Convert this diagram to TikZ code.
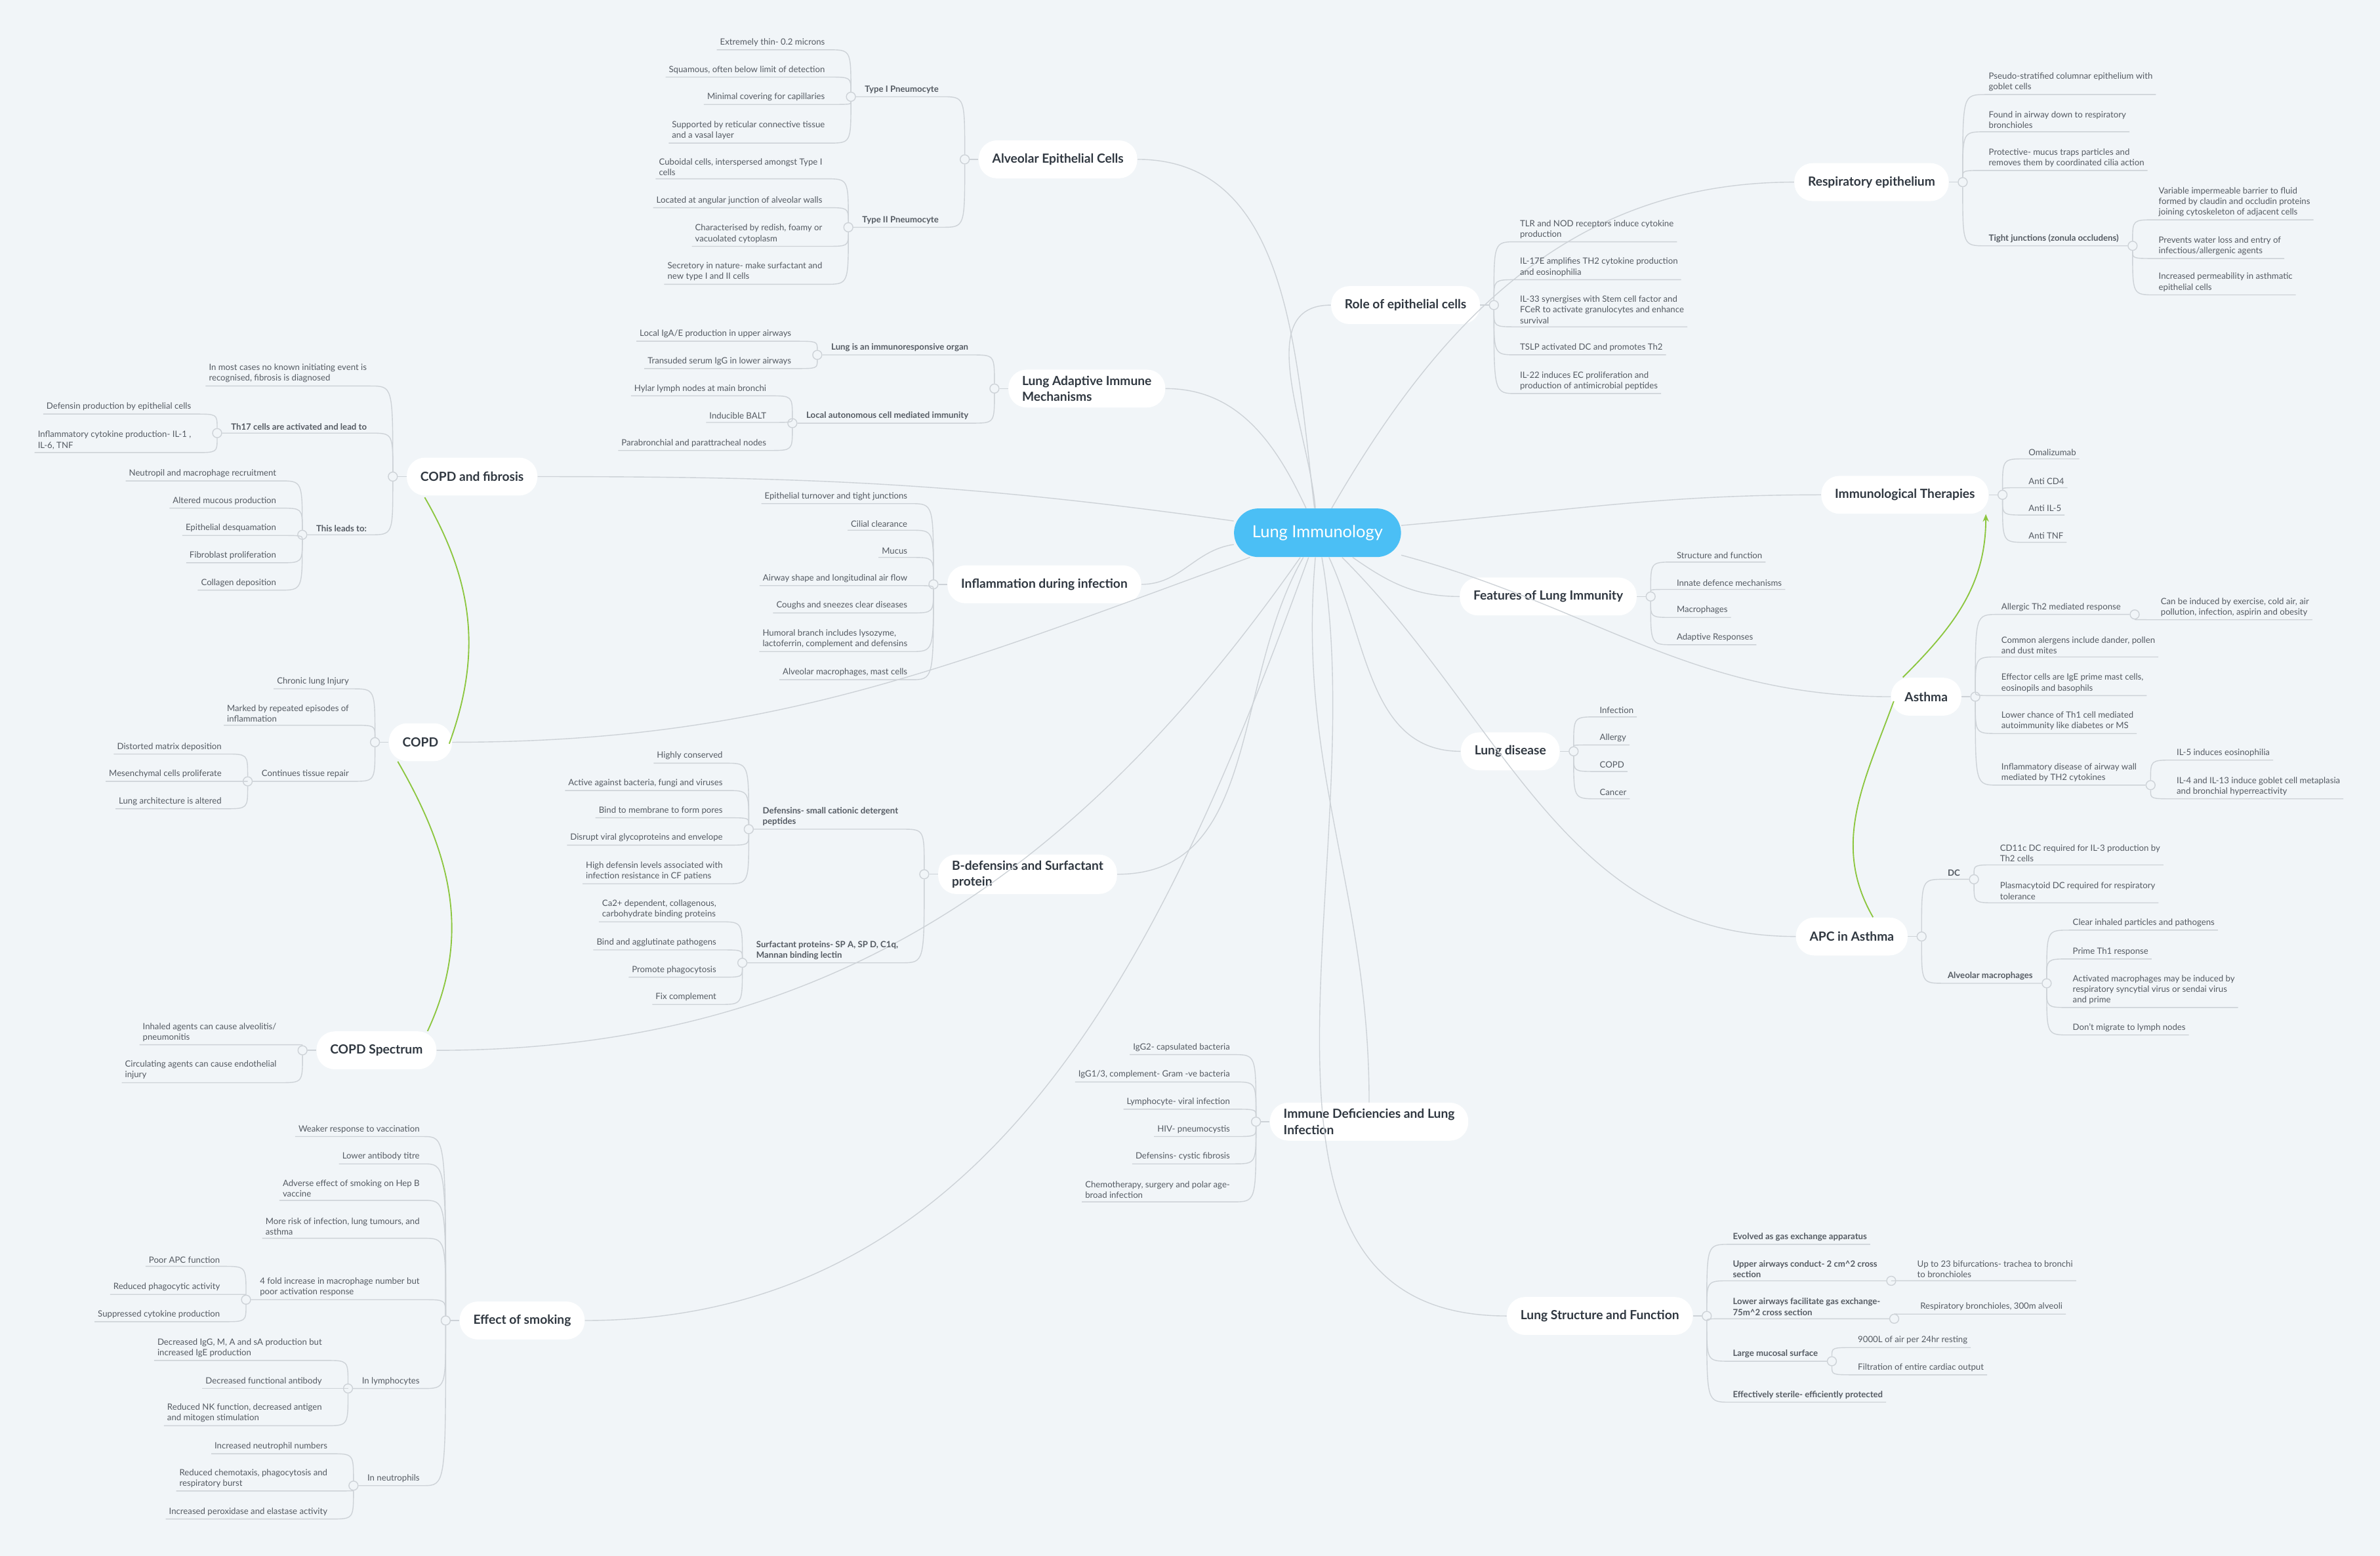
\documentclass[tikz,border=0pt]{standalone}
\usepackage{fontspec}
\setmainfont{Lato}
\usetikzlibrary{calc,arrows.meta}
\definecolor{bgC}{HTML}{F1F5F8}
\definecolor{lineC}{HTML}{CDD2D7}
\definecolor{leafC}{HTML}{555B63}
\definecolor{headC}{HTML}{2F3740}
\definecolor{greenC}{HTML}{8CC63F}
\definecolor{centC}{HTML}{4BBFF5}
\newcommand\lfont{\fontsize{5.7}{7}\selectfont}
\tikzset{
 conn/.style={draw=lineC, line width=0.6pt},
 gconn/.style={draw=greenC, line width=0.8pt},
 leafL/.style={anchor=east, font=\lfont, text=leafC, align=left, inner xsep=2pt, inner ysep=2pt},
 leafR/.style={anchor=west, font=\lfont, text=leafC, align=left, inner xsep=2pt, inner ysep=2pt},
 dotc/.style={circle, draw=lineC, fill=bgC, line width=0.6pt, minimum size=6pt, inner sep=0pt},
 mainbox/.style={fill=white, rounded corners=12pt, font=\fontsize{8.3}{10.5}\selectfont\bfseries, text=headC, align=left, inner xsep=9pt, inner ysep=4pt, minimum height=25pt},
 central/.style={fill=centC, rounded corners=16pt, font=\fontsize{11}{13}\selectfont, text=white, minimum width=110pt, minimum height=32pt}
}
\newcommand\mainL[1]{\node[dotc] (#1c) at ($(#1.west)+(-9,0)$) {}; \draw[conn] (#1c) -- (#1);}
\newcommand\mainR[1]{\node[dotc] (#1c) at ($(#1.east)+(9,0)$) {}; \draw[conn] (#1c) -- (#1);}
\newcommand\LL[4]{\node[leafL, xshift=-15pt] (#1) at (#2 |- 0,#3) {#4};
 \draw[conn] (#1.south west) -- (#1.south east) .. controls (#2 |- #1.south east) .. (#2);}
\newcommand\LS[4]{\node[leafL, xshift=-15pt] (#1) at (#2 |- 0,#3) {#4};
 \node[dotc] (#1c) at ($(#1.south west)+(-7,0)$) {};
 \draw[conn] (#1c) -- (#1.south east) .. controls (#2 |- #1.south east) .. (#2);}
\newcommand\RL[4]{\node[leafR, xshift=15pt] (#1) at (#2 |- 0,#3) {#4};
 \draw[conn] (#1.south east) -- (#1.south west) .. controls (#2 |- #1.south west) .. (#2);}
\newcommand\RS[4]{\node[leafR, xshift=15pt] (#1) at (#2 |- 0,#3) {#4};
 \node[dotc] (#1c) at ($(#1.south east)+(7,0)$) {};
 \draw[conn] (#1c) -- (#1.south west) .. controls (#2 |- #1.south west) .. (#2);}
\begin{document}
\begin{tikzpicture}[x=1pt,y=-1pt]
\path[fill=bgC] (0,0) rectangle (1568,1025);
\node[central] (C) at (868,351) {Lung Immunology};
% main nodes
\node[mainbox] (AEC) at (697,105) {Alveolar Epithelial Cells};
\node[mainbox] (LAI) at (716,256) {Lung Adaptive Immune\\Mechanisms};
\node[mainbox] (CF) at (311,314) {COPD and fibrosis};
\node[mainbox] (INF) at (688,385) {Inflammation during infection};
\node[mainbox] (CO) at (277,489) {COPD};
\node[mainbox] (BD) at (677,576) {B-defensins and Surfactant\\protein};
\node[mainbox] (CS) at (248,692) {COPD Spectrum};
\node[mainbox] (ES) at (344,870) {Effect of smoking};
\node[mainbox] (ID) at (902,739) {Immune Deficiencies and Lung\\Infection};
\node[mainbox] (RO) at (926,201) {Role of epithelial cells};
\node[mainbox] (RE) at (1233,120) {Respiratory epithelium};
\node[mainbox] (IT) at (1255,326) {Immunological Therapies};
\node[mainbox] (FE) at (1020,393) {Features of Lung Immunity};
\node[mainbox] (LD) at (995,495) {Lung disease};
\node[mainbox] (AS) at (1269,459) {Asthma};
\node[mainbox] (AP) at (1220,617) {APC in Asthma};
\node[mainbox] (LS) at (1054,867) {Lung Structure and Function};
% central connectors
\draw[conn] (C) to[out=97,in=0] (AEC.east);
\draw[conn] (C) to[out=115,in=0] (LAI.east);
\draw[conn] (C) to[out=172,in=0] (CF.east);
\draw[conn] (C) to[out=188,in=0] (INF.east);
\draw[conn] (C) to[out=200,in=0] (CO.east);
\draw[conn] (C) to[out=240,in=0] (BD.east);
\draw[conn] (C) to[out=235,in=0] (CS.east);
\draw[conn] (C) to[out=250,in=0] (ES.east);
\draw[conn] (C) to[out=-95,in=90] (ID.north);
\draw[conn] (C) to[out=-80,in=180] (LS.west);
\draw[conn] (C) to[out=95,in=180] (RO.west);
\draw[conn] (C) to[out=60,in=180] (RE.west);
\draw[conn] (C) to[out=5,in=180] (IT.west);
\draw[conn] (C) to[out=-35,in=180] (FE.west);
\draw[conn] (C) to[out=-65,in=180] (LD.west);
\draw[conn] (C) to[out=-15,in=180] (AS.west);
\draw[conn] (C) to[out=-45,in=180] (AP.west);
% green relations
\draw[gconn] ($(CF.south west)+(12,1)$) to[out=-60,in=70] ($(CO.east)+(-2,1)$);
\draw[gconn] ($(CO.south west)+(6,0)$) to[out=-60,in=65] ($(CS.north east)+(-6,0)$);
\draw[gconn,-{Stealth[length=5pt,width=4pt]}] ($(AS.north west)+(8,0)$) to[out=45,in=-90] ($(IT.south east)+(-2,0)$);
\draw[gconn] ($(AP.north)+(14,0)$) to[out=120,in=-110] ($(AS.west)+(2,3)$);
% Alveolar
\mainL{AEC}
\LS{T1}{AECc}{59}{\bfseries Type I Pneumocyte}
\LL{a1}{T1c}{28}{Extremely thin- 0.2 microns}
\LL{a2}{T1c}{46}{Squamous, often below limit of detection}
\LL{a3}{T1c}{64}{Minimal covering for capillaries}
\LL{a4}{T1c}{86}{Supported by reticular connective tissue\\and a vasal layer}
\LS{T2}{AECc}{145}{\bfseries Type II Pneumocyte}
\LL{a5}{T2c}{110}{Cuboidal cells, interspersed amongst Type I\\cells}
\LL{a6}{T2c}{132}{Located at angular junction of alveolar walls}
\LL{a7}{T2c}{154}{Characterised by redish, foamy or\\vacuolated cytoplasm}
\LL{a8}{T2c}{179}{Secretory in nature- make surfactant and\\new type I and II cells}
% Lung adaptive
\mainL{LAI}
\LS{LA1}{LAIc}{229}{\bfseries Lung is an immunoresponsive organ}
\LL{b1}{LA1c}{220}{Local IgA/E production in upper airways}
\LL{b2}{LA1c}{238}{Transuded serum IgG in lower airways}
\LS{LA2}{LAIc}{274}{\bfseries Local autonomous cell mediated immunity}
\LL{b3}{LA2c}{256}{Hylar lymph nodes at main bronchi}
\LL{b4}{LA2c}{274}{Inducible BALT}
\LL{b5}{LA2c}{292}{Parabronchial and parattracheal nodes}
% COPD and fibrosis
\mainL{CF}
\LL{c0}{CFc}{246}{In most cases no known initiating event is\\recognised, fibrosis is diagnosed}
\LS{CF1}{CFc}{281}{\bfseries Th17 cells are activated and lead to}
\LL{c1}{CF1c}{268}{Defensin production by epithelial cells}
\LL{c2}{CF1c}{290}{Inflammatory cytokine production- IL-1 ,\\IL-6, TNF}
\LS{CF2}{CFc}{348}{\bfseries This leads to:}
\LL{c3}{CF2c}{312}{Neutropil and macrophage recruitment}
\LL{c4}{CF2c}{330}{Altered mucous production}
\LL{c5}{CF2c}{348}{Epithelial desquamation}
\LL{c6}{CF2c}{366}{Fibroblast proliferation}
\LL{c7}{CF2c}{384}{Collagen deposition}
% Inflammation
\mainL{INF}
\LL{d1}{INFc}{327}{Epithelial turnover and tight junctions}
\LL{d2}{INFc}{345}{Cilial clearance}
\LL{d3}{INFc}{363}{Mucus}
\LL{d4}{INFc}{381}{Airway shape and longitudinal air flow}
\LL{d5}{INFc}{399}{Coughs and sneezes clear diseases}
\LL{d6}{INFc}{421}{Humoral branch includes lysozyme,\\lactoferrin, complement and defensins}
\LL{d7}{INFc}{443}{Alveolar macrophages, mast cells}
% COPD
\mainL{CO}
\LL{e1}{COc}{449}{Chronic lung Injury}
\LL{e2}{COc}{470}{Marked by repeated episodes of\\inflammation}
\LS{CO1}{COc}{510}{Continues tissue repair}
\LL{e3}{CO1c}{492}{Distorted matrix deposition}
\LL{e4}{CO1c}{510}{Mesenchymal cells proliferate}
\LL{e5}{CO1c}{528}{Lung architecture is altered}
% B-defensins
\mainL{BD}
\LS{BD1}{BDc}{538}{\bfseries Defensins- small cationic detergent\\\bfseries peptides}
\LL{f1}{BD1c}{498}{Highly conserved}
\LL{f2}{BD1c}{516}{Active against bacteria, fungi and viruses}
\LL{f3}{BD1c}{534}{Bind to membrane to form pores}
\LL{f4}{BD1c}{552}{Disrupt viral glycoproteins and envelope}
\LL{f5}{BD1c}{574}{High defensin levels associated with\\infection resistance in CF patiens}
\LS{BD2}{BDc}{626}{\bfseries Surfactant proteins- SP A, SP D, C1q,\\\bfseries Mannan binding lectin}
\LL{f6}{BD2c}{599}{Ca2+ dependent, collagenous,\\carbohydrate binding proteins}
\LL{f7}{BD2c}{621}{Bind and agglutinate pathogens}
\LL{f8}{BD2c}{639}{Promote phagocytosis}
\LL{f9}{BD2c}{657}{Fix complement}
% COPD Spectrum
\mainL{CS}
\LL{g1}{CSc}{680}{Inhaled agents can cause alveolitis/\\pneumonitis}
\LL{g2}{CSc}{705}{Circulating agents can cause endothelial\\injury}
% Effect of smoking
\mainL{ES}
\LL{h1}{ESc}{744}{Weaker response to vaccination}
\LL{h2}{ESc}{762}{Lower antibody titre}
\LL{h3}{ESc}{783}{Adverse effect of smoking on Hep B\\vaccine}
\LL{h4}{ESc}{808}{More risk of infection, lung tumours, and\\asthma}
\LS{ES1}{ESc}{848}{4 fold increase in macrophage number but\\poor activation response}
\LL{h5}{ES1c}{830}{Poor APC function}
\LL{h6}{ES1c}{848}{Reduced phagocytic activity}
\LL{h7}{ES1c}{866}{Suppressed cytokine production}
\LS{ES2}{ESc}{910}{In lymphocytes}
\LL{h8}{ES2c}{888}{Decreased IgG, M, A and sA production but\\increased IgE production}
\LL{h9}{ES2c}{910}{Decreased functional antibody}
\LL{h10}{ES2c}{931}{Reduced NK function, decreased antigen\\and mitogen stimulation}
\LS{ES3}{ESc}{974}{In neutrophils}
\LL{h11}{ES3c}{953}{Increased neutrophil numbers}
\LL{h12}{ES3c}{974}{Reduced chemotaxis, phagocytosis and\\respiratory burst}
\LL{h13}{ES3c}{996}{Increased peroxidase and elastase activity}
% Immune deficiencies
\mainL{ID}
\LL{i1}{IDc}{690}{IgG2- capsulated bacteria}
\LL{i2}{IDc}{708}{IgG1/3, complement- Gram -ve bacteria}
\LL{i3}{IDc}{726}{Lymphocyte- viral infection}
\LL{i4}{IDc}{744}{HIV- pneumocystis}
\LL{i5}{IDc}{762}{Defensins- cystic fibrosis}
\LL{i6}{IDc}{784}{Chemotherapy, surgery and polar age-\\broad infection}
% Role of epithelial cells
\mainR{RO}
\RL{j1}{ROc}{151}{TLR and NOD receptors induce cytokine\\production}
\RL{j2}{ROc}{176}{IL-17E amplifies TH2 cytokine production\\and eosinophilia}
\RL{j3}{ROc}{204}{IL-33 synergises with Stem cell factor and\\FCeR to activate granulocytes and enhance\\survival}
\RL{j4}{ROc}{229}{TSLP activated DC and promotes Th2}
\RL{j5}{ROc}{251}{IL-22 induces EC proliferation and\\production of antimicrobial peptides}
% Respiratory epithelium
\mainR{RE}
\RL{k1}{REc}{54}{Pseudo-stratified columnar epithelium with\\goblet cells}
\RL{k2}{REc}{79}{Found in airway down to respiratory\\bronchioles}
\RL{k3}{REc}{104}{Protective- mucus traps particles and\\removes them by coordinated cilia action}
\RS{RE1}{REc}{157}{\bfseries Tight junctions (zonula occludens)}
\RL{k4}{RE1c}{133}{Variable impermeable barrier to fluid\\formed by claudin and occludin proteins\\joining cytoskeleton of adjacent cells}
\RL{k5}{RE1c}{162}{Prevents water loss and entry of\\infectious/allergenic agents}
\RL{k6}{RE1c}{186}{Increased permeability in asthmatic\\epithelial cells}
% Immunological therapies
\mainR{IT}
\RL{l1}{ITc}{298}{Omalizumab}
\RL{l2}{ITc}{317}{Anti CD4}
\RL{l3}{ITc}{335}{Anti IL-5}
\RL{l4}{ITc}{353}{Anti TNF}
% Features
\mainR{FE}
\RL{m1}{FEc}{366}{Structure and function}
\RL{m2}{FEc}{384}{Innate defence mechanisms}
\RL{m3}{FEc}{402}{Macrophages}
\RL{m4}{FEc}{420}{Adaptive Responses}
% Lung disease
\mainR{LD}
\RL{n1}{LDc}{468}{Infection}
\RL{n2}{LDc}{486}{Allergy}
\RL{n3}{LDc}{504}{COPD}
\RL{n4}{LDc}{522}{Cancer}
% Asthma
\mainR{AS}
\RS{AS1}{ASc}{400}{Allergic Th2 mediated response}
\RL{o1}{AS1c}{400}{Can be induced by exercise, cold air, air\\pollution, infection, aspirin and obesity}
\RL{o2}{ASc}{425}{Common alergens include dander, pollen\\and dust mites}
\RL{o3}{ASc}{450}{Effector cells are IgE prime mast cells,\\eosinopils and basophils}
\RL{o4}{ASc}{475}{Lower chance of Th1 cell mediated\\autoimmunity like diabetes or MS}
\RS{AS2}{ASc}{509}{Inflammatory disease of airway wall\\mediated by TH2 cytokines}
\RL{o5}{AS2c}{496}{IL-5 induces eosinophilia}
\RL{o6}{AS2c}{518}{IL-4 and IL-13 induce goblet cell metaplasia\\and bronchial hyperreactivity}
% APC in Asthma
\mainR{AP}
\RS{AP1}{APc}{575}{\bfseries DC}
\RL{p1}{AP1c}{562}{CD11c DC required for IL-3 production by\\Th2 cells}
\RL{p2}{AP1c}{587}{Plasmacytoid DC required for respiratory\\tolerance}
\RS{AP2}{APc}{643}{\bfseries Alveolar macrophages}
\RL{p3}{AP2c}{608}{Clear inhaled particles and pathogens}
\RL{p4}{AP2c}{627}{Prime Th1 response}
\RL{p5}{AP2c}{652}{Activated macrophages may be induced by\\respiratory syncytial virus or sendai virus\\and prime}
\RL{p6}{AP2c}{677}{Don't migrate to lymph nodes}
% Lung structure
\mainR{LS}
\RL{q1}{LSc}{815}{\bfseries Evolved as gas exchange apparatus}
\RS{LS1}{LSc}{836}{\bfseries Upper airways conduct- 2 cm\textasciicircum 2 cross\\\bfseries section}
\RL{q2}{LS1c}{836}{Up to 23 bifurcations- trachea to bronchi\\to bronchioles}
\RS{LS2}{LSc}{861}{\bfseries Lower airways facilitate gas exchange-\\\bfseries 75m\textasciicircum 2 cross section}
\RL{q3}{LS2c}{861}{Respiratory bronchioles, 300m alveoli}
\RS{LS3}{LSc}{892}{\bfseries Large mucosal surface}
\RL{q4}{LS3c}{883}{9000L of air per 24hr resting}
\RL{q5}{LS3c}{901}{Filtration of entire cardiac output}
\RL{q6}{LSc}{919}{\bfseries Effectively sterile- efficiently protected}
\end{tikzpicture}
\end{document}
